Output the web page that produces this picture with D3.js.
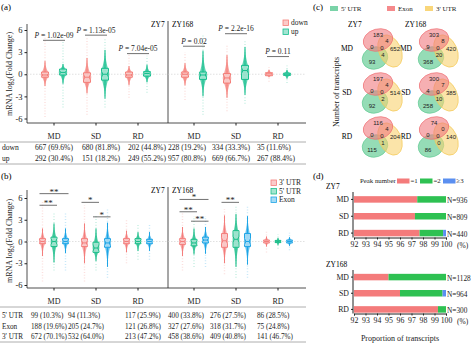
<!DOCTYPE html>
<html><head><meta charset="utf-8">
<script src="https://cdn.jsdelivr.net/npm/d3@7"></script>
<style>
body{margin:0;background:#fff;}
svg{display:block;font-family:"Liberation Serif","Times New Roman",serif;}
</style></head><body>
<div id="chart"></div>
<script>
// ---- data ----
const categories = ["MD", "SD", "RD"];
const cultivars = ["ZY7", "ZY168"];

// panel a: [min, lowWhisker, q1, median, q3, highWhisker, max]; ZY7 MD,SD,RD then ZY168 MD,SD,RD
const aDown = [
    [-5.8, -1.6, -0.4, -0.1, 0.3, 1.8, 5.5],
    [-5.5, -2.6, -1.1, -0.4, 0.2, 2.2, 5.0],
    [-3.2, -1.5, -0.4, -0.1, 0.3, 1.1, 2.8],
    [-3.5, -1.5, -0.4, 0.0, 0.3, 1.5, 3.0],
    [-5.0, -3.2, -1.2, -0.5, 0.1, 2.6, 4.0],
    [-1.0, -0.4, -0.2, 0.05, 0.2, 0.6, 1.0]
];
const aUp = [
    [-4.5, -1.3, -0.1, 0.25, 0.7, 1.4, 4.5],
    [-4.5, -3.3, -0.8, 0.0, 0.8, 3.3, 5.0],
    [-2.5, -1.1, -0.25, 0.1, 0.35, 1.3, 2.5],
    [-5.5, -3.0, -0.7, -0.1, 0.3, 3.2, 5.5],
    [-4.0, -2.8, -0.7, 0.5, 1.2, 3.7, 4.5],
    [-1.2, -0.6, -0.15, 0.0, 0.15, 0.6, 1.2]
];
const aPvals = ["1.02e-09", "1.13e-05", "7.04e-05", "0.02", "2.2e-16", "0.11"];
const aPheight = [4.6, 5.3, 2.8, 3.8, 5.5, 2.4];
const aDownCounts = ["667 (69.6%)", "680 (81.8%)", "202 (44.8%)", "228 (19.2%)", "334 (33.3%)", "35 (11.6%)"];
const aUpCounts = ["292 (30.4%)", "151 (18.2%)", "249 (55.2%)", "957 (80.8%)", "669 (66.7%)", "267 (88.4%)"];

// panel b
const b3UTR = [
    [-5.5, -2.0, -0.3, 0.0, 0.4, 1.8, 5.5],
    [-5.5, -3.0, -0.7, -0.2, 0.4, 2.5, 5.0],
    [-3.0, -1.5, -0.3, 0.0, 0.4, 1.5, 3.0],
    [-4.0, -2.0, -0.4, 0.0, 0.4, 2.0, 4.0],
    [-4.5, -3.0, -0.8, 0.1, 1.1, 3.6, 4.5],
    [-1.5, -0.7, -0.2, 0.0, 0.2, 0.7, 1.5]
];
const b5UTR = [
    [-4.0, -2.9, -0.7, 0.0, 0.6, 2.5, 4.0],
    [-4.0, -2.7, -1.5, -0.9, -0.1, 1.8, 3.5],
    [-2.5, -1.3, -0.3, 0.0, 0.4, 1.3, 2.5],
    [-3.5, -1.8, -0.6, -0.2, 0.3, 1.8, 3.5],
    [-5.0, -3.5, -0.8, 0.3, 1.5, 3.8, 5.0],
    [-1.0, -0.5, -0.15, 0.0, 0.15, 0.5, 1.0]
];
const bExon = [
    [-4.0, -1.6, -0.3, 0.0, 0.4, 1.8, 4.0],
    [-5.0, -3.5, -0.8, -0.2, 0.4, 2.6, 4.5],
    [-2.5, -1.3, -0.3, 0.0, 0.3, 1.3, 2.5],
    [-3.5, -1.7, -0.2, 0.2, 0.6, 2.0, 3.5],
    [-5.0, -3.2, -0.7, 0.0, 1.1, 3.5, 5.0],
    [-1.2, -0.6, -0.2, 0.0, 0.2, 0.6, 1.2]
];
// [category index 0..5, from series, to series, height, label]
const bSig = [
    [0, 0, 2, 6.6, "**"], [0, 0, 1, 5.0, "**"],
    [1, 0, 1, 5.4, "*"], [1, 1, 2, 3.4, "*"],
    [3, 0, 2, 5.8, "*"], [3, 0, 1, 4.1, "**"], [3, 1, 2, 2.8, "**"],
    [4, 0, 1, 5.4, "**"]
];
const b5Counts = ["99 (10.3%)", "94 (11.3%)", "117 (25.9%)", "400 (33.8%)", "276 (27.5%)", "86 (28.5%)"];
const bExonCounts = ["188 (19.6%)", "205 (24.7%)", "121 (26.8%)", "327 (27.6%)", "318 (31.7%)", "75 (24.8%)"];
const b3Counts = ["672 (70.1%)", "532 (64.0%)", "213 (47.2%)", "458 (38.6%)", "409 (40.8%)", "141 (46.7%)"];

// panel c: [Exon only, Exon&3', Exon&5', all, 3' only, 5'&3', 5' only]
const vennZY7 = [[183, 4, 0, 0, 652, 4, 93], [197, 4, 0, 0, 514, 2, 92], [116, 4, 0, 0, 204, 1, 115]];
const vennZY168 = [[303, 8, 9, 0, 420, 20, 368], [300, 7, 4, 0, 385, 10, 258], [74, 0, 0, 0, 140, 0, 86]];

// panel d (percent)
const peak1ZY7 = [97.5, 97.3, 97.7];
const peak2ZY7 = [2.5, 2.7, 2.05];
const peak3ZY7 = [0, 0, 0.25];
const peak1ZY168 = [95.0, 96.0, 99.3];
const peak2ZY168 = [5.0, 3.7, 0.7];
const peak3ZY168 = [0, 0.3, 0];
const nZY7 = ["N=936", "N=809", "N=440"];
const nZY168 = ["N=1128", "N=964", "N=300"];
const pctTicks = [92, 93, 94, 95, 96, 97, 98, 99, 100];

// ---- colours ----
const cDown = "#F47E78", cUp = "#17BF8E";
const c3 = "#F47E7C", c5 = "#1CBE8A", cEx = "#1EA5E6";

const svg = d3.select("#chart").append("svg").attr("width", 474).attr("height", 345);

const xZY7 = d3.scaleBand().domain(categories).range([33, 159]);
const xZY168 = d3.scaleBand().domain(categories).range([173, 299]);
function catX(i) {
    const sc = i < 3 ? xZY7 : xZY168;
    const c = categories[i % 3];
    return sc(c) + sc.bandwidth() / 2;
}

function drawBox(g, y, cx, s, color, bw, vw) {
    const [mn, lo, q1, md, q3, hi, mx] = s;
    g.append("line").attr("x1", cx).attr("x2", cx).attr("y1", y(mn)).attr("y2", y(mx))
        .attr("stroke", color).attr("stroke-opacity", 0.25).attr("stroke-width", 1.4)
        .attr("stroke-dasharray", "1,1.8");
    const pts = [[lo, 0], [(lo + q1) / 2, 0.14], [q1, 0.55], [md, 1], [q3, 0.55], [(q3 + hi) / 2, 0.14], [hi, 0]];
    const area = d3.area().y(d => y(d[0]))
        .x0(d => cx - d[1] * vw / 2).x1(d => cx + d[1] * vw / 2)
        .curve(d3.curveBasis);
    g.append("path").attr("d", area(pts)).attr("fill", color).attr("fill-opacity", 0.7);
    g.append("line").attr("x1", cx).attr("x2", cx).attr("y1", y(hi)).attr("y2", y(q3))
        .attr("stroke", color).attr("stroke-width", 1);
    g.append("line").attr("x1", cx).attr("x2", cx).attr("y1", y(q1)).attr("y2", y(lo))
        .attr("stroke", color).attr("stroke-width", 1);
    const y3 = y(q3), y1 = y(q1), ym = y(md);
    const n = Math.min((y1 - y3) * 0.3, 3);
    const l = cx - bw / 2, r = cx + bw / 2, ins = 1.3;
    const poly = [[l, y3], [r, y3], [r, ym - n], [r - ins, ym], [r, ym + n], [r, y1], [l, y1], [l, ym + n], [l + ins, ym], [l, ym - n]];
    g.append("polygon").attr("points", poly.map(p => p.join(",")).join(" "))
        .attr("fill", "#fff").attr("fill-opacity", 0.4).attr("stroke", color).attr("stroke-width", 1);
    g.append("line").attr("x1", l + ins).attr("x2", r - ins).attr("y1", ym).attr("y2", ym)
        .attr("stroke", color).attr("stroke-width", 1);
}

function drawFrame(g, y, top, bottom) {
    g.append("line").attr("x1", 27).attr("x2", 27).attr("y1", top).attr("y2", bottom).attr("stroke", "#222").attr("stroke-width", 0.8);
    g.append("line").attr("x1", 27).attr("x2", 306).attr("y1", bottom).attr("y2", bottom).attr("stroke", "#222").attr("stroke-width", 0.8);
    g.append("line").attr("x1", 168).attr("x2", 168).attr("y1", top - 3).attr("y2", bottom).attr("stroke", "#222").attr("stroke-width", 0.8);
    g.append("line").attr("x1", 27).attr("x2", 306).attr("y1", y(0)).attr("y2", y(0))
        .attr("stroke", "#ccc").attr("stroke-width", 0.6).attr("stroke-dasharray", "1.5,1.5");
    const axis = d3.axisLeft(y).tickValues([-6, -3, 0, 3, 6]).tickFormat(d => String(d)).tickSize(2.5).tickPadding(2);
    const ax = g.append("g").attr("transform", "translate(27,0)").call(axis);
    ax.select(".domain").remove();
    ax.selectAll("line").attr("stroke", "#222");
    ax.selectAll("text").attr("font-size", 8.5).attr("font-family", "Liberation Serif").attr("fill", "#222");
    [xZY7, xZY168].forEach(sc => {
        const xa = g.append("g").attr("transform", `translate(0,${bottom})`)
            .call(d3.axisBottom(sc).tickSize(2.5).tickPadding(8));
        xa.select(".domain").remove();
        xa.selectAll("line").attr("stroke", "#222");
        xa.selectAll("text").attr("font-size", 8).attr("font-family", "Liberation Serif").attr("fill", "#222");
    });
}

function yTitle(g, x, yc) {
    const t = g.append("text").attr("transform", `translate(${x},${yc}) rotate(-90)`)
        .attr("text-anchor", "middle").attr("font-size", 8).attr("fill", "#222");
    t.append("tspan").text("mRNA log");
    t.append("tspan").text("2").attr("font-size", 5.5).attr("dy", 2);
    t.append("tspan").text("(Fold Change)").attr("dy", -2);
}

function tableLines(g, y1, y2) {
    [y1, y2].forEach(yy => g.append("line").attr("x1", 0).attr("x2", 306).attr("y1", yy).attr("y2", yy)
        .attr("stroke", "#999").attr("stroke-width", 0.8));
}

function tableRow(g, label, vals, xs, yy, fs) {
    g.append("text").attr("x", 2).attr("y", yy).attr("font-size", fs).attr("fill", "#222").text(label);
    vals.forEach((v, i) => g.append("text").attr("x", xs[i]).attr("y", yy).attr("font-size", fs).attr("fill", "#222").text(v));
}

// ---------- panel a ----------
const ga = svg.append("g");
const ya = d3.scaleLinear().domain([-6, 6]).range([118.5, 30]);
ga.append("text").attr("x", 1).attr("y", 10).attr("font-size", 9).text("(a)");
drawFrame(ga, ya, 24, 123);
yTitle(ga, 12, 74);
ga.append("text").attr("x", 151).attr("y", 27).attr("font-size", 7.5).text(cultivars[0]);
ga.append("text").attr("x", 172).attr("y", 27).attr("font-size", 7.5).text(cultivars[1]);
for (let i = 0; i < 6; i++) {
    const cx = catX(i);
    drawBox(ga, ya, cx - 9, aDown[i], cDown, 7, 10);
    drawBox(ga, ya, cx + 9, aUp[i], cUp, 7, 10);
    const yy = ya(aPheight[i]);
    ga.append("line").attr("x1", cx - 11).attr("x2", cx + 11).attr("y1", yy).attr("y2", yy)
        .attr("stroke", "#333").attr("stroke-width", 0.7);
    const t = ga.append("text").attr("x", cx).attr("y", yy - 2.5).attr("text-anchor", "middle")
        .attr("font-size", 7.5).attr("fill", "#222");
    t.append("tspan").attr("font-style", "italic").text("P");
    t.append("tspan").text(" = " + aPvals[i]);
}
[["down", cDown, 25], ["up", cUp, 34]].forEach(([lab, col, yy]) => {
    ga.append("rect").attr("x", 283).attr("y", yy - 5).attr("width", 5.5).attr("height", 5.5)
        .attr("fill", col).attr("fill-opacity", 0.4).attr("stroke", col).attr("stroke-width", 0.8);
    ga.append("text").attr("x", 291).attr("y", yy).attr("font-size", 7.5).attr("fill", "#222").text(lab);
});
tableLines(ga, 142, 164);
const aCols = [35, 82, 128, 168, 212, 257];
tableRow(ga, "down", aDownCounts, aCols, 150, 7.6);
tableRow(ga, "up", aUpCounts, aCols, 161, 7.6);

// ---------- panel b ----------
const gb = svg.append("g");
const yb = d3.scaleLinear().domain([-6, 6]).range([285, 198]);
gb.append("text").attr("x", 1).attr("y", 179).attr("font-size", 9).text("(b)");
drawFrame(gb, yb, 190, 288);
yTitle(gb, 12, 241);
gb.append("text").attr("x", 151).attr("y", 193).attr("font-size", 7.5).text(cultivars[0]);
gb.append("text").attr("x", 172).attr("y", 193).attr("font-size", 7.5).text(cultivars[1]);
const bSeries = [b3UTR, b5UTR, bExon], bCols = [c3, c5, cEx];
for (let i = 0; i < 6; i++) {
    const cx = catX(i);
    bSeries.forEach((s, k) => drawBox(gb, yb, cx + (k - 1) * 11.5, s[i], bCols[k], 6, 8));
}
bSig.forEach(([ci, a, b, h, lab]) => {
    const cx = catX(ci);
    const x1 = cx + (a - 1) * 11.5 - 3, x2 = cx + (b - 1) * 11.5 + 3, yy = yb(h);
    gb.append("line").attr("x1", x1).attr("x2", x2).attr("y1", yy).attr("y2", yy)
        .attr("stroke", "#333").attr("stroke-width", 0.7);
    gb.append("text").attr("x", (x1 + x2) / 2).attr("y", yy + 1).attr("text-anchor", "middle")
        .attr("font-size", 9).attr("fill", "#222").text(lab);
});
[["3' UTR", c3, 185], ["5' UTR", c5, 193.5], ["Exon", cEx, 202]].forEach(([lab, col, yy]) => {
    gb.append("rect").attr("x", 271).attr("y", yy - 5).attr("width", 5.5).attr("height", 5.5)
        .attr("fill", col).attr("fill-opacity", 0.4).attr("stroke", col).attr("stroke-width", 0.8);
    gb.append("text").attr("x", 279).attr("y", yy).attr("font-size", 7.5).attr("fill", "#222").text(lab);
});
tableLines(gb, 307, 342);
const bCol = [31, 68, 125, 168, 210, 257];
tableRow(gb, "5' UTR", b5Counts, bCol, 318, 7.2);
tableRow(gb, "Exon", bExonCounts, bCol, 328.5, 7.2);
tableRow(gb, "3' UTR", b3Counts, bCol, 339, 7.2);

// ---------- panel c ----------
const gc = svg.append("g");
gc.append("text").attr("x", 313).attr("y", 10).attr("font-size", 9).text("(c)");
[["5' UTR", "#7AD3A8", 330], ["Exon", "#F58A8C", 387], ["3' UTR", "#F9D67A", 425]].forEach(([lab, col, xx]) => {
    gc.append("rect").attr("x", xx).attr("y", 6).attr("width", 8).attr("height", 5).attr("fill", col);
    gc.append("text").attr("x", xx + 11).attr("y", 11).attr("font-size", 7).attr("fill", "#222").text(lab);
});
gc.append("text").attr("transform", "translate(339,92) rotate(-90)").attr("text-anchor", "middle")
    .attr("font-size", 8).attr("fill", "#222").text("Number of transcripts");
gc.append("text").attr("x", 348).attr("y", 27).attr("font-size", 7.5).text(cultivars[0]);
gc.append("text").attr("x", 405).attr("y", 27).attr("font-size", 7.5).text(cultivars[1]);

const vennRows = d3.scaleBand().domain(categories).range([26, 158]);
const numOff = [[-2, -13], [7, -7], [-8, -1], [2, 0], [15, 0.5], [3, 6.5], [-8, 14]];
function drawVenn(cx, cy, vals) {
    const g = gc.append("g").attr("transform", `translate(${cx},${cy})`);
    g.append("ellipse").attr("cx", -5).attr("cy", 10).attr("rx", 13).attr("ry", 11)
        .attr("transform", "rotate(-20 -5 10)").attr("fill", "#5CC98F").attr("fill-opacity", 0.65)
        .attr("stroke", "#5CC98F").attr("stroke-width", 0.6);
    g.append("ellipse").attr("cx", 10).attr("cy", 3).attr("rx", 11).attr("ry", 17)
        .attr("transform", "rotate(-25 10 3)").attr("fill", "#F8D270").attr("fill-opacity", 0.6)
        .attr("stroke", "#F5C850").attr("stroke-width", 0.6);
    g.append("ellipse").attr("cx", -2).attr("cy", -8).attr("rx", 15).attr("ry", 11)
        .attr("transform", "rotate(-15 -2 -8)").attr("fill", "#F07A7E").attr("fill-opacity", 0.6)
        .attr("stroke", "#EE6A6E").attr("stroke-width", 0.6);
    vals.forEach((v, i) => g.append("text").attr("x", numOff[i][0]).attr("y", numOff[i][1] + 2.2)
        .attr("text-anchor", "middle").attr("font-family", "Liberation Sans, Arial, sans-serif")
        .attr("font-size", 6).attr("fill", "#222").text(v));
}
categories.forEach((c, i) => {
    const cy = vennRows(c) + vennRows.bandwidth() / 2;
    gc.append("text").attr("x", 347).attr("y", cy + 2.5).attr("text-anchor", "middle").attr("font-size", 7.5).text(c);
    gc.append("text").attr("x", 406).attr("y", cy + 2.5).attr("text-anchor", "middle").attr("font-size", 7.5).text(c);
    drawVenn(380, cy, vennZY7[i]);
    drawVenn(436, cy, vennZY168[i]);
});

// ---------- panel d ----------
const gd = svg.append("g");
gd.append("text").attr("x", 313).attr("y", 179).attr("font-size", 9).text("(d)");
gd.append("text").attr("x", 360).attr("y", 183).attr("font-size", 6.8).attr("fill", "#222").text("Peak number");
const cP = ["#F47B7B", "#2EC152", "#5B8FF0"];
[["=1", 397], ["=2", 420], ["\u22653", 443]].forEach(([lab, xx], i) => {
    gd.append("rect").attr("x", xx).attr("y", 178.5).attr("width", 12.5).attr("height", 5).attr("fill", cP[i]);
    gd.append("text").attr("x", xx + 13.5).attr("y", 183).attr("font-size", 6.8).attr("fill", "#222").text(lab);
});
const xd = d3.scaleLinear().domain([92, 100]).range([354, 446]);
function drawPeaks(top, axisY, label, p1, p2, p3, ns) {
    const yd = d3.scaleBand().domain(categories).range([top, axisY + 4]);
    gd.append("text").attr("x", 326).attr("y", top - 2).attr("font-size", 7.5).text(label);
    const bh = 6.5;
    categories.forEach((c, i) => {
        const cy = yd(c) + yd.bandwidth() / 2;
        const segs = [[92, p1[i]], [p1[i], p1[i] + p2[i]], [p1[i] + p2[i], p1[i] + p2[i] + p3[i]]];
        segs.forEach(([a, b], k) => {
            if (b - a <= 0) return;
            gd.append("rect").attr("x", xd(a)).attr("y", cy - bh / 2).attr("width", xd(Math.min(b, 100)) - xd(a))
                .attr("height", bh).attr("fill", cP[k]);
        });
        gd.append("text").attr("x", 447).attr("y", cy + 3.5).attr("font-size", 7.3).attr("fill", "#222").text(ns[i]);
    });
    const ya = d3.axisLeft(yd).tickSize(2).tickPadding(2);
    const ay = gd.append("g").attr("transform", `translate(${xd(92) - 1},0)`).call(ya);
    ay.select(".domain").attr("d", `M0,${top + 1}V${axisY}`).attr("stroke", "#222");
    ay.selectAll("line").attr("stroke", "#222");
    ay.selectAll("text").attr("font-size", 7.8).attr("font-family", "Liberation Serif").attr("fill", "#222");
    const xa = gd.append("g").attr("transform", `translate(0,${axisY})`)
        .call(d3.axisBottom(xd).tickValues(pctTicks).tickSize(2).tickPadding(1.5));
    xa.select(".domain").attr("stroke", "#222");
    xa.selectAll("line").attr("stroke", "#222");
    xa.selectAll("text").attr("font-size", 7.8).attr("font-family", "Liberation Serif").attr("fill", "#222");
    gd.append("text").attr("x", 457).attr("y", axisY + 10).attr("font-size", 7.5).attr("fill", "#222").text("(%)");
}
drawPeaks(191, 237.5, cultivars[0], peak1ZY7, peak2ZY7, peak3ZY7, nZY7);
drawPeaks(269, 313.5, cultivars[1], peak1ZY168, peak2ZY168, peak3ZY168, nZY168);
gd.append("text").attr("x", 400).attr("y", 341).attr("text-anchor", "middle").attr("font-size", 8)
    .attr("fill", "#222").text("Proportion of transcripts");
</script>
</body></html>
